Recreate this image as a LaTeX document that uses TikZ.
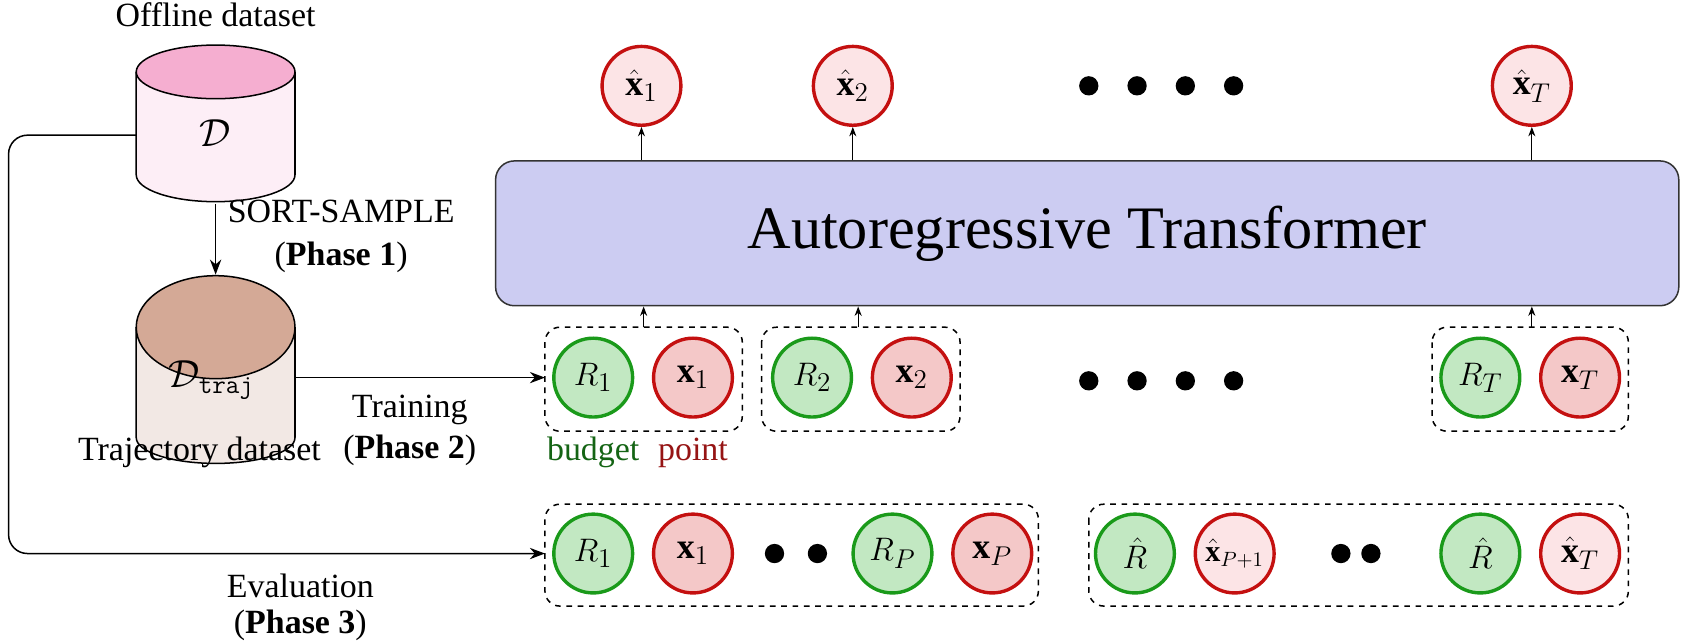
\documentclass[tikz,border=0pt]{standalone}
\usepackage{fontspec}
\setmainfont{Liberation Serif}
\usetikzlibrary{arrows.meta}
\definecolor{gfill}{HTML}{C2E8C2}\definecolor{gline}{HTML}{1A9A1A}
\definecolor{rfill}{HTML}{F4C8C8}\definecolor{rline}{HTML}{C41010}
\definecolor{lfill}{HTML}{FCE4E6}
\definecolor{tfill}{HTML}{CCCCF2}
\begin{document}
\begin{tikzpicture}[x=0.02cm,y=-0.02cm,
 txt/.style={font=\fontsize{18}{20}\selectfont,inner sep=0},
 gc/.style={circle,draw=gline,fill=gfill,line width=1.8pt,minimum size=1.47cm,inner sep=0,font=\fontsize{19}{21}\selectfont},
 rc/.style={circle,draw=rline,fill=rfill,line width=1.8pt,minimum size=1.47cm,inner sep=0,font=\fontsize{19}{21}\selectfont},
 lc/.style={rc,fill=lfill},
 grp/.style={draw,dashed,rounded corners=8pt,thick},
 arr/.style={-{Stealth[length=8pt]},thick},
 sarr/.style={-{Stealth[length=5pt]},semithick},
 dot/.style={circle,fill=black,minimum size=0.36cm,inner sep=0}]
\useasboundingbox (0,0) rectangle (1568,600);
% cylinders
\draw[thick,fill={rgb,255:red,253;green,238;blue,246}] (127,67) -- (127,163) arc[start angle=180,end angle=0,x radius=74,y radius=25] -- (275,67);
\draw[thick,fill={rgb,255:red,245;green,174;blue,208}] (201,67) ellipse[x radius=74,y radius=25];
\node[txt,font=\fontsize{22}{24}\selectfont] (D) at (201,124) {$\mathcal{D}$};
\coordinate (Dbot) at (201,190); \coordinate (Dleft) at (127,126);
\draw[thick,fill={rgb,255:red,242;green,232;blue,228}] (127,305) -- (127,408) arc[start angle=180,end angle=0,x radius=74,y radius=24] -- (275,305);
\draw[thick,fill={rgb,255:red,212;green,169;blue,150}] (201,305) ellipse[x radius=74,y radius=48];
\node[txt,font=\fontsize{20}{22}\selectfont] (Dt) at (197,354) {$\mathcal{D}_{\mathtt{traj}}$};
\coordinate (Dttop) at (201,256); \coordinate (Dtright) at (275,352);
\node[txt] (off) at (201,14) {Offline dataset};
\node[txt] (traj) at (186,422) {Trajectory dataset};
\node[txt] (ss) at (318,197) {SORT-SAMPLE};
\node[txt] (p1) at (318,240) {(\textbf{Phase 1})};
\node[txt] (tr) at (382,382) {Training};
\node[txt] (p2) at (382,420) {(\textbf{Phase 2})};
\node[txt] (ev) at (280,546) {Evaluation};
\node[txt] (p3) at (280,583) {(\textbf{Phase 3})};
% transformer
\node[draw=black!80,thick,fill=tfill,rounded corners=10pt,minimum width=1103*0.02cm,minimum height=135*0.02cm,font=\fontsize{32}{34}\selectfont] (T) at (1013.5,217.5) {Autoregressive Transformer};
% outputs
\node[lc] (o1) at (598,80) {$\hat{\mathbf{x}}_1$};
\node[lc] (o2) at (795,80) {$\hat{\mathbf{x}}_2$};
\node[lc] (oT) at (1428,80) {$\hat{\mathbf{x}}_T$};
\foreach \x in {1015,1060,1105,1150}{\node[dot] at (\x,80) {}; \node[dot] at (\x,355) {};}
% row 2
\node[gc] (a1) at (553,352) {$R_1$};
\node[rc] (b1) at (646,352) {$\mathbf{x}_1$};
\node[gc] (a2) at (757,352) {$R_2$};
\node[rc] (b2) at (850,352) {$\mathbf{x}_2$};
\node[gc] (aT) at (1380,352) {$R_T$};
\node[rc] (bT) at (1473,352) {$\mathbf{x}_T$};
\draw[grp] (508,305) rectangle (692,402); \coordinate (g1) at (600,305);
\draw[grp] (710,305) rectangle (895,402); \coordinate (g2) at (800,305);
\draw[grp] (1335,305) rectangle (1518,402); \coordinate (gT) at (1428,305);
\draw[sarr] (g1) -- (g1|-T.south);
\draw[sarr] (g2) -- (g2|-T.south);
\draw[sarr] (gT) -- (gT|-T.south);
\draw[sarr] (o1|-T.north) -- (o1);
\draw[sarr] (o2|-T.north) -- (o2);
\draw[sarr] (oT|-T.north) -- (oT);
\node[txt,text={rgb,255:red,20;green,100;blue,20}] (bud) at (553,422) {budget};
\node[txt,text={rgb,255:red,150;green,20;blue,20}] (pt) at (646,422) {point};
% row 3
\node[gc] (c1) at (553,516) {$R_1$};
\node[rc] (d1) at (646,516) {$\mathbf{x}_1$};
\node[dot] at (722,516) {}; \node[dot] at (762,516) {};
\node[gc] (cP) at (832,516) {$R_P$};
\node[rc] (dP) at (925,516) {$\mathbf{x}_P$};
\draw[grp] (508,470) rectangle (968,565); \coordinate (pre) at (508,516);
\node[gc] (e1) at (1058,516) {$\hat R$};
\node[lc,font=\fontsize{16}{18}\selectfont] (f1) at (1151,516) {$\hat{\mathbf{x}}_{P+1}$};
\node[dot] at (1250,516) {}; \node[dot] at (1278,516) {};
\node[gc] (e2) at (1380,516) {$\hat R$};
\node[lc] (f2) at (1473,516) {$\hat{\mathbf{x}}_T$};
\draw[grp] (1015,470) rectangle (1518,565);
\node[txt] (prefix) at (738,625) {prefix};
\node[txt] (pred) at (1335,625) {predictions};
% connectors
\draw[arr] (Dbot) -- (Dttop);
\draw[arr] (Dtright) -- (508,352);
\draw[arr,rounded corners=10pt] (Dleft) -- (8,126) -- (8,516) -- (pre);
\end{tikzpicture}
\end{document}
